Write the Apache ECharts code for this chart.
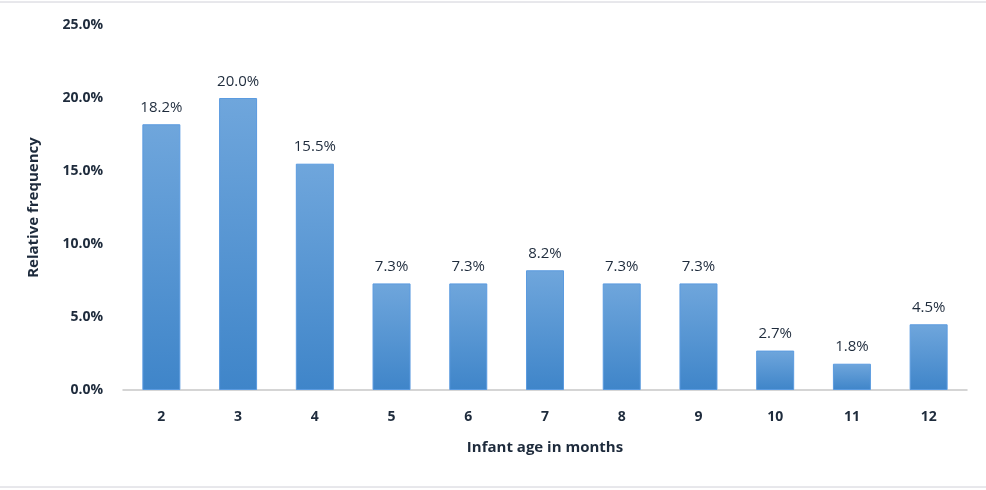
<!DOCTYPE html><html><head><meta charset="utf-8">
<script src="https://cdn.jsdelivr.net/npm/echarts@6/dist/echarts.min.js"></script>
<style>body{margin:0;background:#fff}#c{width:986px;height:490px}</style></head><body>
<div id="c"></div>
<script>
const categories=['2','3','4','5','6','7','8','9','10','11','12'];
const values=[18.2,20.0,15.5,7.3,7.3,8.2,7.3,7.3,2.7,1.8,4.5];
const yTicks=[0,5,10,15,20,25];
const chart=echarts.init(document.getElementById('c'));
const txt='#1e2b3c';
chart.setOption({
 animation:false,
 graphic:[
  {type:'line',shape:{x1:0,y1:2,x2:986,y2:2},style:{stroke:'#d0d0d8',lineWidth:1}},
  {type:'line',shape:{x1:0,y1:487,x2:986,y2:487},style:{stroke:'#d0d0d8',lineWidth:1}}
 ],
 grid:{left:123,right:19,top:25,bottom:100},
 xAxis:{type:'category',data:categories,name:'Infant age in months',nameLocation:'middle',nameGap:50,
  nameTextStyle:{color:txt,fontSize:15,fontWeight:'bold',fontFamily:'Open Sans'},
  axisLine:{lineStyle:{color:'#c8c8c8',width:1.5}},axisTick:{show:false},
  axisLabel:{color:txt,fontSize:14,fontWeight:'bold',fontFamily:'Open Sans',margin:20}},
 yAxis:{type:'value',min:0,max:25,interval:5,name:'Relative frequency',nameLocation:'middle',nameGap:82,
  nameTextStyle:{color:txt,fontSize:15,fontWeight:'bold',fontFamily:'Open Sans'},
  splitLine:{show:false},axisLine:{show:false},axisTick:{show:false},
  axisLabel:{color:txt,fontSize:14,fontWeight:'bold',fontFamily:'Open Sans',margin:20,
   formatter:v=>yTicks.includes(v)?v.toFixed(1)+'%':''}},
 series:[{type:'bar',data:values,barWidth:38,
  itemStyle:{borderColor:'#5b9be0',borderWidth:1,
   color:new echarts.graphic.LinearGradient(0,0,0,1,[{offset:0,color:'#6fa6dc'},{offset:1,color:'#3f85c9'}])},
  label:{show:true,position:'top',distance:9,color:txt,fontSize:15,fontFamily:'Open Sans',formatter:p=>p.value.toFixed(1)+'%'}}]
});
</script></body></html>
